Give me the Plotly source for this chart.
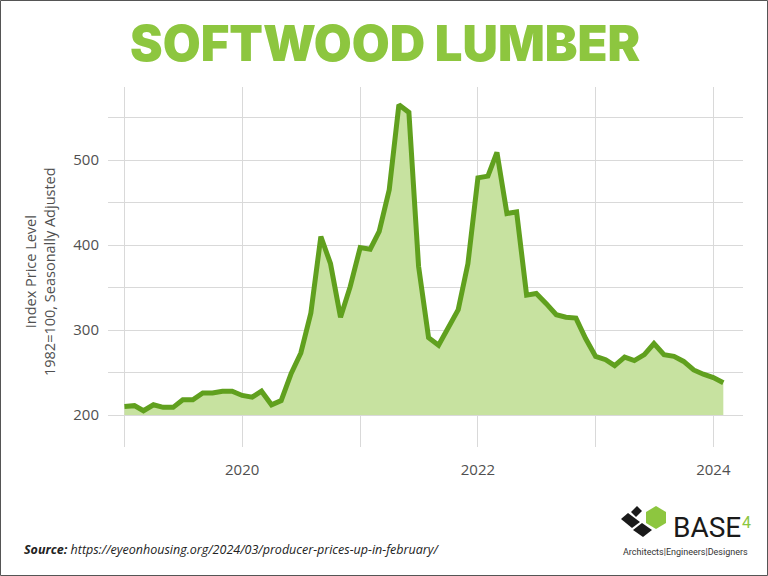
import plotly.graph_objects as go
import pandas as pd

# ---- data ----
index_values = [
    210, 211, 205, 212, 209, 209, 218, 218, 226, 226, 228, 228,   # 2019
    223, 221, 228, 212, 217, 249, 273, 320, 410, 378, 315, 351,   # 2020
    397, 395, 416, 465, 565, 556, 375, 291, 282, 302, 324, 378,   # 2021
    479, 481, 509, 437, 439, 341, 343, 331, 318, 315, 314, 290,   # 2022
    269, 265, 258, 268, 264, 271, 284, 271, 269, 263, 253, 248,   # 2023
    244, 238,                                                     # 2024
]
months = pd.date_range("2019-01-01", periods=len(index_values), freq="MS")
baseline_level = 200
y_tick_vals = [200, 300, 400, 500]
x_tick_labels = ["2020", "2022", "2024"]

title_text = "SOFTWOOD LUMBER"
y_title = "Index Price Level<br>1982=100, Seasonally Adjusted"
source_text = "<b>Source:</b> https://eyeonhousing.org/2024/03/producer-prices-up-in-february/"

# ---- layout geometry (pixels) ----
W, H = 768, 576
L, R, T, B = 108, 743, 87, 447
PW, PH = R - L, B - T

def px(x):
    return (x - L) / PW

def py(y):
    return (B - y) / PH

LINE = "#60a01e"
FILL = "#c7e2a0"
TITLE_GREEN = "#8dc63f"
GRID = "#d9d9d9"
TXT = "#505050"

fig = go.Figure()
fig.add_trace(go.Scatter(
    x=months, y=[baseline_level] * len(months), mode="lines",
    line=dict(width=0, color=FILL), hoverinfo="skip", showlegend=False))
fig.add_trace(go.Scatter(
    x=months, y=index_values, mode="lines", fill="tonexty", fillcolor=FILL,
    line=dict(color=LINE, width=5, shape="linear"), showlegend=False))

fig.update_layout(
    width=W, height=H,
    margin=dict(l=L, r=W - R, t=T, b=H - B, pad=0),
    paper_bgcolor="white", plot_bgcolor="white",
    font=dict(family="Open Sans, sans-serif", color=TXT),
)
fig.update_xaxes(
    type="date", range=["2018-11-11", "2024-04-02"],
    tickmode="array",
    tickvals=[f"{y}-01-01" for y in x_tick_labels], ticktext=x_tick_labels,
    showgrid=True, gridcolor=GRID, gridwidth=1,
    minor=dict(dtick="M12", tick0="2019-01-01", showgrid=True, gridcolor=GRID, gridwidth=1),
    ticks="outside", ticklen=9, tickcolor="rgba(0,0,0,0)",
    tickfont=dict(size=15, color=TXT, family="Open Sans, sans-serif"),
    zeroline=False, showline=False,
)
fig.update_yaxes(
    range=[200 - (B - 415) / 0.85, 200 + (415 - T) / 0.85],
    tickmode="array", tickvals=y_tick_vals,
    showgrid=True, gridcolor=GRID, gridwidth=1,
    minor=dict(dtick=50, tick0=0, showgrid=True, gridcolor=GRID, gridwidth=1),
    ticks="outside", ticklen=5, tickcolor="rgba(0,0,0,0)",
    tickfont=dict(size=15, color=TXT, family="Open Sans, sans-serif"),
    zeroline=False, showline=False,
)

ann = []
ann.append(dict(text=title_text, x=px(385), y=py(43), xref="paper", yref="paper",
                xanchor="center", yanchor="middle", showarrow=False,
                font=dict(family="Inter, Lato, sans-serif", size=49, color=TITLE_GREEN, weight=900)))
ann.append(dict(text=y_title, x=px(40), y=py(272), xref="paper", yref="paper",
                xanchor="center", yanchor="middle", showarrow=False, textangle=-90,
                font=dict(family="Open Sans, sans-serif", size=14.5, color=TXT)))
ann.append(dict(text=source_text, x=px(22), y=py(549), xref="paper", yref="paper",
                xanchor="left", yanchor="middle", showarrow=False,
                font=dict(family="Open Sans, sans-serif", size=12.5, color="#222222", style="italic")))
# logo text
ann.append(dict(text="BASE", x=px(671), y=py(527), xref="paper", yref="paper",
                xanchor="left", yanchor="middle", showarrow=False,
                font=dict(family="Roboto, sans-serif", size=28, color="#1a1a1a")))
ann.append(dict(text="4", x=px(740), y=py(522), xref="paper", yref="paper",
                xanchor="left", yanchor="middle", showarrow=False,
                font=dict(family="Roboto, sans-serif", size=16, color=TITLE_GREEN)))
ann.append(dict(text="Architects|Engineers|Designers", x=px(685), y=py(552), xref="paper", yref="paper",
                xanchor="center", yanchor="middle", showarrow=False,
                font=dict(family="Roboto, sans-serif", size=9, color="#333333")))
fig.update_layout(annotations=ann)

def path(points):
    s = "M " + " L ".join(f"{px(x):.5f},{py(y):.5f}" for x, y in points) + " Z"
    return s

shapes = []
# border
shapes.append(dict(type="rect", xref="paper", yref="paper",
                   x0=px(0.5), x1=px(767.5), y0=py(575.5), y1=py(0.5),
                   line=dict(color="#555555", width=1), fillcolor="rgba(0,0,0,0)", layer="above"))
# logo pieces
black = "#1a1a1a"
shapes.append(dict(type="path", xref="paper", yref="paper",
                   path=path([(637, 506), (642, 511), (636, 517), (631, 512)]),
                   fillcolor=black, line=dict(width=0)))
shapes.append(dict(type="path", xref="paper", yref="paper",
                   path=path([(621, 519), (628, 513), (640, 522), (632, 528)]),
                   fillcolor=black, line=dict(width=0)))
shapes.append(dict(type="path", xref="paper", yref="paper",
                   path=path([(633, 530), (642, 523), (652, 530), (643, 537)]),
                   fillcolor=black, line=dict(width=0)))
shapes.append(dict(type="path", xref="paper", yref="paper",
                   path=path([(656, 506), (666, 512), (666, 523), (656, 529), (646, 523), (646, 512)]),
                   fillcolor=TITLE_GREEN, line=dict(width=0)))
fig.update_layout(shapes=shapes)

fig.write_html("out.html", config={"displayModeBar": False},
               post_script="document.body.style.margin='0';document.body.style.overflow='hidden';")
